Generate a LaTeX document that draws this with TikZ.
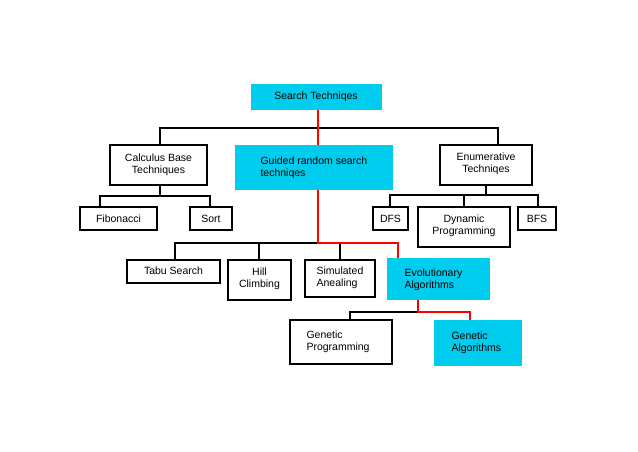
\documentclass[tikz,border=0pt]{standalone}
\usepackage{fontspec}
\setmainfont{Liberation Sans}
\begin{document}
\begin{tikzpicture}[x=1pt,y=-1pt,
 bx/.style={draw=black,line width=1.6pt,fill=white,inner sep=0pt},
 cy/.style={fill=cyan!70!blue!60,draw=none,inner sep=0pt,fill=cyan},
 txt/.style={font=\fontsize{10.5}{12.5}\selectfont,align=center},
 ln/.style={line width=1.6pt,black},
 rd/.style={line width=1.6pt,red}]
\useasboundingbox (0,0) rectangle (638,451);
\definecolor{cyan}{RGB}{0,204,238}
% boxes
\path[cy] (251,84) rectangle (382,110);
\node[txt] (st) at (316,97) {Search Techniqes};
\coordinate (stb) at (318,110);
\path[cy] (235,145) rectangle (393,190);
\node[txt,align=left,anchor=north west] (gr) at (257,153) {Guided random search\\techniqes};
\draw[bx] (110,145) rectangle (207,185); \node[txt] (cb) at (158.5,165) {Calculus Base\\Techniques};
\draw[bx] (440,145) rectangle (532,185); \node[txt] (en) at (486,164) {Enumerative\\Techniqes};
\draw[bx] (80,207) rectangle (157,230); \node[txt] (fi) at (118.5,218.5) {Fibonacci};
\draw[bx] (190,207) rectangle (232,230); \node[txt] (so) at (211,218.5) {Sort};
\draw[bx] (373,207) rectangle (408,230); \node[txt] (df) at (390.5,218.5) {DFS};
\draw[bx] (418,207) rectangle (510,247); \node[txt] (dp) at (464,226) {Dynamic\\Programming};
\draw[bx] (518,207) rectangle (556,230); \node[txt] (bf) at (537,218.5) {BFS};
\draw[bx] (127,260) rectangle (220,283); \node[txt] (tb) at (173.5,271) {Tabu Search};
\draw[bx] (228,260) rectangle (291,300); \node[txt] (hc) at (259.5,279) {Hill\\Climbing};
\draw[bx] (305,260) rectangle (375,297); \node[txt,align=left] (sa) at (340,278) {Simulated\\Anealing};
\path[cy] (387,258) rectangle (490,300);
\node[txt,align=left,anchor=north west] (ea) at (401,265) {Evolutionary\\Algorithms};
\draw[bx] (290,320) rectangle (392,364); \node[txt,align=left,anchor=north west] (gp) at (303,327) {Genetic\\Programming};
\path[cy] (434,320) rectangle (522,366);
\node[txt,align=left,anchor=north west] (ga) at (448,328) {Genetic\\Algorithms};
% connectors
\draw[ln] (160,145) -- (160,128) -- (498,128) -- (498,145);
\draw[rd] (stb) -- (318,145);
\draw[ln] (160,185) -- (160,196);
\draw[ln] (100,207) -- (100,196) -- (210,196) -- (210,207);
\draw[ln] (486,185) -- (486,195);
\draw[ln] (390,207) -- (390,195) -- (538,195) -- (538,207);
\draw[ln] (464,195) -- (464,207);
\draw[ln] (175,260) -- (175,243) -- (318,243);
\draw[ln] (259,243) -- (259,260);
\draw[ln] (340,243) -- (340,260);
\draw[rd] (318,190) -- (318,243) -- (398,243) -- (398,258);
\draw[ln] (418,312) -- (350,312) -- (350,320);
\draw[rd] (418,300) -- (418,312) -- (470,312) -- (470,320);
\end{tikzpicture}
\end{document}
